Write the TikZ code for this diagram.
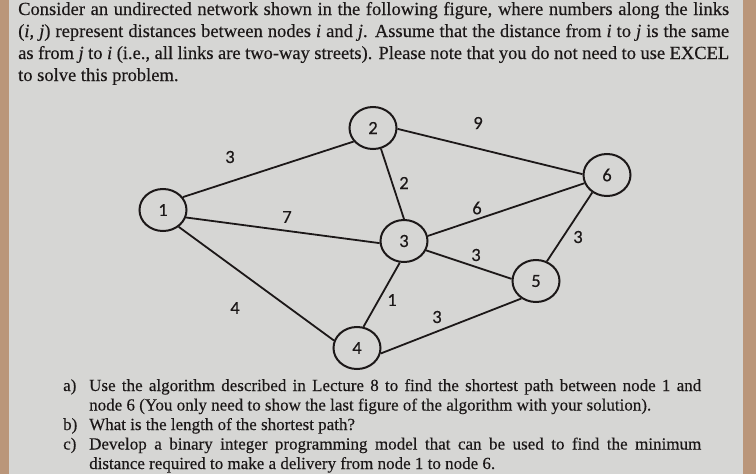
\documentclass[tikz,border=0pt]{standalone}
\usepackage{fontspec}
\setmainfont{Liberation Serif}[FakeBold=0.3]
\newfontfamily\netfont{Carlito}[FakeBold=0.4]
\usetikzlibrary{shapes.geometric}
\definecolor{paper}{RGB}{214,214,212}
\definecolor{frame}{RGB}{186,150,122}
\definecolor{ink}{RGB}{28,24,24}
\tikzset{
  city/.style={ellipse,draw=ink,line width=2pt,minimum width=47pt,minimum height=42pt,inner sep=0pt,text=ink,font=\netfont\fontsize{18.5}{18.5}\selectfont},
  link/.style={draw=ink,line width=1.8pt},
  dist/.style={inner sep=0pt,text=ink,font=\netfont\fontsize{18.5}{18.5}\selectfont},
}
\begin{document}
\begin{tikzpicture}[x=1pt,y=-1pt]
		\fill[paper](0,0)rectangle(756,474);
		\fill[frame](0,0)rectangle(9,474);
		\fill[frame](743,0)rectangle(756,474);
		\useasboundingbox(0,0)rectangle(756,474);
		% question text
		\node[anchor=base west,inner sep=0pt,text=ink,text width=711pt,align=justify,font=\fontsize{18.5}{22}\selectfont](intro)at(18,15){Consider an undirected network shown in the following figure, where numbers along the links\linebreak
			(\textit{i}, \textit{j}) represent distances between nodes \textit{i} and \textit{j}. Assume that the distance from \textit{i} to \textit{j} is the same\linebreak
			as from \textit{j} to \textit{i} (i.e., all links are two-way streets). Please note that you do not need to use EXCEL\linebreak
			to solve this problem.};
		% network
		\node[city](n1)at(163,210){1};
		\node[city](n2)at(373,128){2};
		\node[city](n3)at(404,241){3};
		\node[city](n4)at(357,348){4};
		\node[city](n5)at(536,281){5};
		\node[city](n6)at(607,175){6};
		\draw[link](n1.33)--(n2.215);
		\draw[link](n1.-18)--(n3.185);
		\draw[link](n1.-47)--(n4.162);
		\draw[link](n2.-69)--(n3.90);
		\draw[link](n2.-2)--(n6.178);
		\draw[link](n3.12)--(n6.200);
		\draw[link](n3.-23)--(n5.175);
		\draw[link](n3.-101)--(n4.73);
		\draw[link](n4.-13)--(n5.-130);
		\draw[link](n5.61)--(n6.230);
		\node[dist](d12)at(230,157){3};
		\node[dist](d13)at(287,217){7};
		\node[dist](d14)at(235,308){4};
		\node[dist](d23)at(404,183){2};
		\node[dist](d26)at(478,123){9};
		\node[dist](d36)at(477,208){6};
		\node[dist](d35)at(476,255){3};
		\node[dist](d56)at(578,237){3};
		\node[dist](d34)at(392,300){1};
		\node[dist](d45)at(437,317){3};
		% parts a) b) c)
		\node[anchor=base west,inner sep=0pt,text=ink,text width=638pt,align=justify,font=\fontsize{17}{19.5}\selectfont](parts)at(63,391){%
			\hangindent=26pt\hangafter=1\noindent\makebox[26pt][l]{a)}Use the algorithm described in Lecture 8 to find the shortest path between node 1 and\linebreak
			node 6 (You only need to show the last figure of the algorithm with your solution).\par
			\hangindent=26pt\hangafter=1\noindent\makebox[26pt][l]{b)}What is the length of the shortest path?\par
			\hangindent=26pt\hangafter=1\noindent\makebox[26pt][l]{c)}Develop a binary integer programming model that can be used to find the minimum\linebreak
			distance required to make a delivery from node 1 to node 6.\par};
	    \end{tikzpicture}
\end{document}
